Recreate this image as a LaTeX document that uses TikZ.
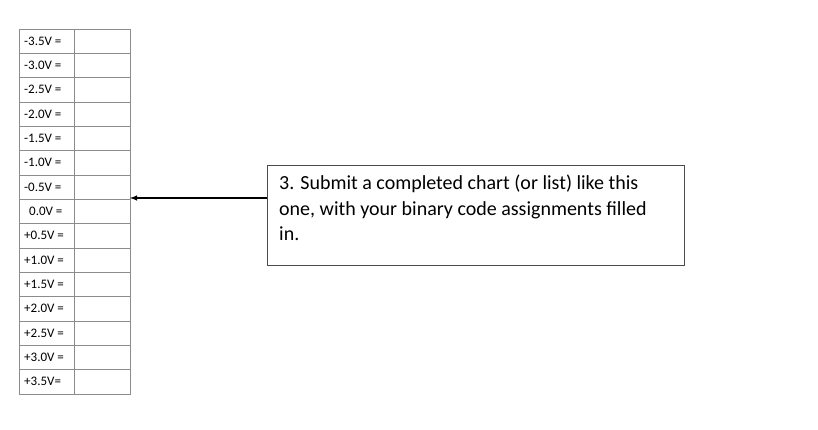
\documentclass[tikz,border=0pt]{standalone}
\usepackage{fontspec}
\setmainfont{Carlito}
\begin{document}
\begin{tikzpicture}[x=1pt,y=-1pt,
  cell/.style={draw=black!45,line width=0.8pt,minimum width=55pt,minimum height=24.33pt,inner sep=0pt,outer sep=0pt},
  lbl/.style={font=\fontsize{13}{15}\selectfont,anchor=west,inner sep=0pt},
  note/.style={draw=black!70,line width=0.8pt,minimum width=417pt,minimum height=100pt,anchor=north west,inner sep=0pt}]
\useasboundingbox (0,0) rectangle (818,430);
\foreach \t [count=\i] in {-3.5V =,-3.0V =,-2.5V =,-2.0V =,-1.5V =,-1.0V =,-0.5V =,\hspace{5pt}0.0V =,+0.5V =,+1.0V =,+1.5V =,+2.0V =,+2.5V =,+3.0V =,+3.5V=}{
  \node[cell] (l\i) at (46.5,{29+24.33*(\i-0.5)}) {};
  \node[cell,minimum width=56pt] (r\i) at (102,{29+24.33*(\i-0.5)}) {};
  \node[lbl] (t\i) at (24,{29+24.33*(\i-0.5)}) {\t};
}
\node[note] (box) at (267,165) {};
\node[anchor=north west,align=left,inner sep=0pt,font=\fontsize{20}{25.5}\selectfont] (txt) at (279,175) {3. Submit a completed chart (or list) like this\\one, with your binary code assignments filled\\in.};
\coordinate (a) at (267,198);
\coordinate (b) at (130,198);
\draw[-latex,line width=1.4pt] (a) -- (b);
\end{tikzpicture}
\end{document}
